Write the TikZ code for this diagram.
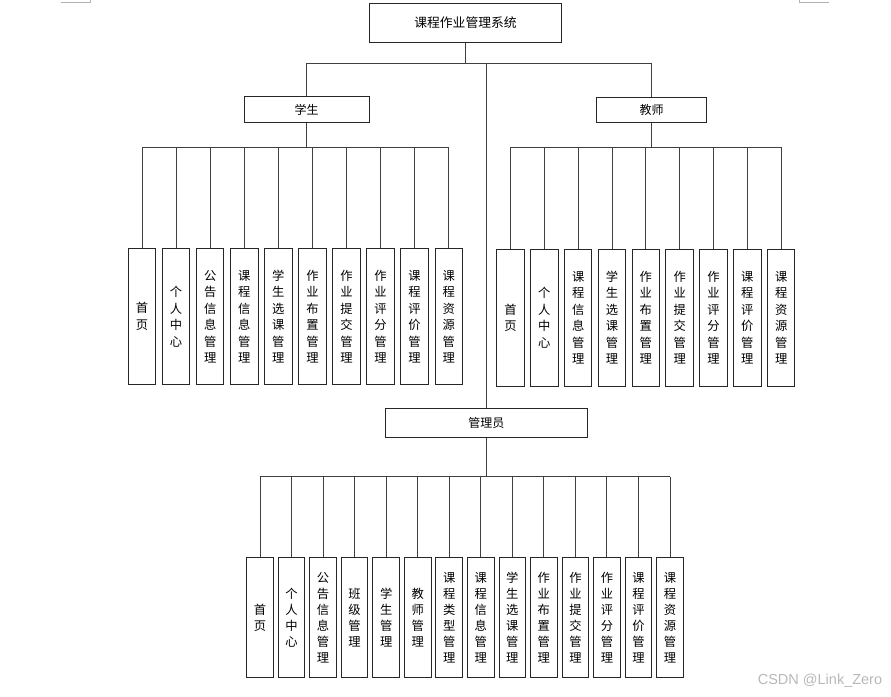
\documentclass[tikz,border=0pt]{standalone}
\usepackage{fontspec}
\setmainfont{Noto Sans CJK SC}
\newfontfamily\wmfont{Liberation Sans}
\begin{document}
\begin{tikzpicture}[x=1pt,y=-1pt,
  box/.style={draw=black!85, line width=0.9pt, fill=white, inner sep=0pt,
    font=\fontsize{12}{14}\selectfont},
  leaf/.style={box, minimum width=27.5pt, align=center,
    font=\fontsize{12.3}{16.5}\selectfont},
  link/.style={draw=black!75, line width=0.9pt},
  cornermark/.style={draw=black!30, line width=0.6pt}]
\useasboundingbox (0,0) rectangle (891,696);
% page corner marks
\draw[cornermark] (60.7,2.7) -- (90.7,2.7) -- (90.7,0);
\draw[cornermark] (799,0) -- (799,2.7) -- (829,2.7);

% main nodes
\node[box, minimum width=192.4pt, minimum height=39.4pt,
  font=\fontsize{12.8}{14}\selectfont] (top) at (465.5,23) {课程作业管理系统};
\node[box, minimum width=125.3pt, minimum height=25.6pt] (stu) at (306.7,109.5) {学生};
\node[box, minimum width=110pt, minimum height=25.4pt] (tea) at (651.7,110) {教师};
\node[box, minimum width=202pt, minimum height=29pt] (adm) at (486.4,422.8) {管理员};

\coordinate (bar1) at (0,63.3);
\coordinate (sbar) at (0,147.3);
\coordinate (tbar) at (0,147.3);
\coordinate (abar) at (0,476.7);

% student leaves
\foreach \t [count=\i] in {首\\页, 个\\人\\中\\心, 公\\告\\信\\息\\管\\理, 课\\程\\信\\息\\管\\理,
  学\\生\\选\\课\\管\\理, 作\\业\\布\\置\\管\\理, 作\\业\\提\\交\\管\\理, 作\\业\\评\\分\\管\\理,
  课\\程\\评\\价\\管\\理, 课\\程\\资\\源\\管\\理}
  \node[leaf, minimum height=136pt] (s\i) at ({142+34.08*(\i-1)},316.5) {\t};

% teacher leaves
\foreach \t [count=\i] in {首\\页, 个\\人\\中\\心, 课\\程\\信\\息\\管\\理,
  学\\生\\选\\课\\管\\理, 作\\业\\布\\置\\管\\理, 作\\业\\提\\交\\管\\理, 作\\业\\评\\分\\管\\理,
  课\\程\\评\\价\\管\\理, 课\\程\\资\\源\\管\\理}
  \node[leaf, minimum height=136.7pt] (t\i) at ({510.5+33.83*(\i-1)},317.6) {\t};

% admin leaves
\foreach \t [count=\i] in {首\\页, 个\\人\\中\\心, 公\\告\\信\\息\\管\\理, 班\\级\\管\\理,
  学\\生\\管\\理, 教\\师\\管\\理, 课\\程\\类\\型\\管\\理, 课\\程\\信\\息\\管\\理,
  学\\生\\选\\课\\管\\理, 作\\业\\布\\置\\管\\理, 作\\业\\提\\交\\管\\理, 作\\业\\评\\分\\管\\理,
  课\\程\\评\\价\\管\\理, 课\\程\\资\\源\\管\\理}
  \node[leaf, minimum width=26.6pt, minimum height=120pt,
    font=\fontsize{12.3}{16}\selectfont] (a\i) at ({260+31.54*(\i-1)},617.7) {\t};

% top-level connectors
\draw[link] (top.south) -- (top.south |- bar1);
\draw[link] (stu.north) -- (stu.north |- bar1) -- (tea.north |- bar1) -- (tea.north);
\draw[link] (adm.north) -- (adm.north |- bar1);

% student connectors
\draw[link] (stu.south) -- (stu.south |- sbar);
\draw[link] (s1.north |- sbar) -- (s10.north |- sbar);
\foreach \i in {1,...,10} \draw[link] (s\i.north) -- (s\i.north |- sbar);

% teacher connectors
\draw[link] (tea.south) -- (tea.south |- tbar);
\draw[link] (t1.north |- tbar) -- (t9.north |- tbar);
\foreach \i in {1,...,9} \draw[link] (t\i.north) -- (t\i.north |- tbar);

% admin connectors
\draw[link] (adm.south) -- (adm.south |- abar);
\draw[link] (a1.north |- abar) -- (a14.north |- abar);
\foreach \i in {1,...,14} \draw[link] (a\i.north) -- (a\i.north |- abar);

% watermark
\node[text=black!28, font=\wmfont\fontsize{14.5}{16}\selectfont, inner sep=0pt] (wm) at (820,680.5) {CSDN @Link\_Zero};
\end{tikzpicture}
\end{document}
